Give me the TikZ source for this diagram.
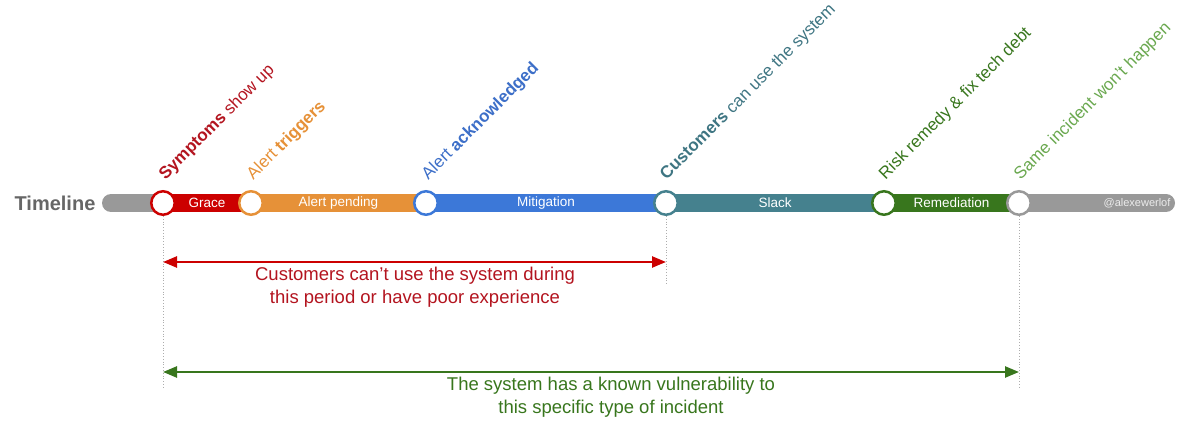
\documentclass[tikz,border=0pt]{standalone}
\usepackage{fontspec}
\setmainfont{Liberation Sans}
\usetikzlibrary{arrows.meta}
\definecolor{cRed}{HTML}{CC0000}
\definecolor{cRedTxt}{HTML}{B3141F}
\definecolor{cOrange}{HTML}{E69138}
\definecolor{cBlue}{HTML}{3C78D8}
\definecolor{cBlueTxt}{HTML}{3D6FC8}
\definecolor{cTeal}{HTML}{45818E}
\definecolor{cTealTxt}{HTML}{3E7582}
\definecolor{cGreen}{HTML}{38761D}
\definecolor{cLightGreen}{HTML}{6AA84F}
\definecolor{cGray}{HTML}{999999}
\definecolor{cDarkGray}{HTML}{666666}
\tikzset{
  evt/.style={circle, minimum size=23.5pt, inner sep=0pt, line width=2.5pt, fill=white, draw=#1},
  bar/.style={line width=18pt, draw=#1},
  seglabel/.style={text=white, font=\fontsize{13.5}{16}\selectfont, inner sep=0pt},
  evtlabel/.style={rotate=45, anchor=south west, inner sep=0pt, text=#1, font=\fontsize{17}{20}\selectfont},
  dotline/.style={draw=cGray!80, dotted, line width=0.8pt},
  span/.style={draw=#1, line width=2.5pt, {Triangle[length=14pt,width=11pt]}-{Triangle[length=14pt,width=11pt]}},
  spantext/.style={align=center, text=#1, font=\fontsize{18.5}{23}\selectfont}
}
\begin{document}
\begin{tikzpicture}[x=1pt,y=-1pt]
\useasboundingbox (0,0) rectangle (1200,443);
% positions
\coordinate (tl) at (111,203);
\coordinate (p1) at (163,203);
\coordinate (p2) at (251,203);
\coordinate (p3) at (426,203);
\coordinate (p4) at (666,203);
\coordinate (p5) at (884,203);
\coordinate (p6) at (1019,203);
\coordinate (tr) at (1166,203);
% bars
\draw[bar=cGray, line cap=round] (tl) -- (p1);
\draw[bar=cGray, line cap=round] (p6) -- (tr);
\draw[bar=cRed] (p1) -- node[seglabel]{Grace} (p2);
\draw[bar=cOrange] (p2) -- node[seglabel]{Alert pending} (p3);
\draw[bar=cBlue] (p3) -- node[seglabel]{Mitigation} (p4);
\draw[bar=cTeal] (p4) -- node[seglabel]{Slack} (p5);
\draw[bar=cGreen] (p5) -- node[seglabel]{Remediation} (p6);
\node[text=white!85!gray, font=\fontsize{11}{13}\selectfont, inner sep=0pt] (sig) at (1137,203) {@alexewerlof};
\node[text=cDarkGray, font=\fontsize{20}{24}\bfseries\selectfont, inner sep=0pt] (tline) at (55,203) {Timeline};
% event circles
\node[evt=cRed] (e1) at (p1) {};
\node[evt=cOrange] (e2) at (p2) {};
\node[evt=cBlue] (e3) at (p3) {};
\node[evt=cTeal] (e4) at (p4) {};
\node[evt=cGreen] (e5) at (p5) {};
\node[evt=cGray] (e6) at (p6) {};
% event labels
\node[evtlabel=cRedTxt] (l1) at (168,183) {\textbf{Symptoms} show up};
\node[evtlabel=cOrange] (l2) at (256,183) {Alert \textbf{triggers}};
\node[evtlabel=cBlueTxt] (l3) at (431,183) {Alert \textbf{acknowledged}};
\node[evtlabel=cTealTxt] (l4) at (669,183) {\textbf{Customers} can use the system};
\node[evtlabel=cGreen] (l5) at (888,183) {Risk remedy \& fix tech debt};
\node[evtlabel=cLightGreen] (l6) at (1023,183) {Same incident won't happen};
% dotted guides
\coordinate (d1) at (163,388);
\coordinate (d4) at (666,284);
\coordinate (d6) at (1019,388);
\draw[dotline] (e1.south) -- (d1);
\draw[dotline] (e4.south) -- (d4);
\draw[dotline] (e6.south) -- (d6);
% spans
\coordinate (r1) at (163,262);
\coordinate (r2) at (666,262);
\coordinate (g1) at (163,372);
\coordinate (g2) at (1019,372);
\draw[span=cRed] (r1) -- (r2);
\draw[span=cGreen] (g1) -- (g2);
\node[spantext=cRedTxt] (rt) at (415,287) {Customers can’t use the system during\\this period or have poor experience};
\node[spantext=cGreen] (gt) at (611,397) {The system has a known vulnerability to\\this specific type of incident};
\end{tikzpicture}
\end{document}
